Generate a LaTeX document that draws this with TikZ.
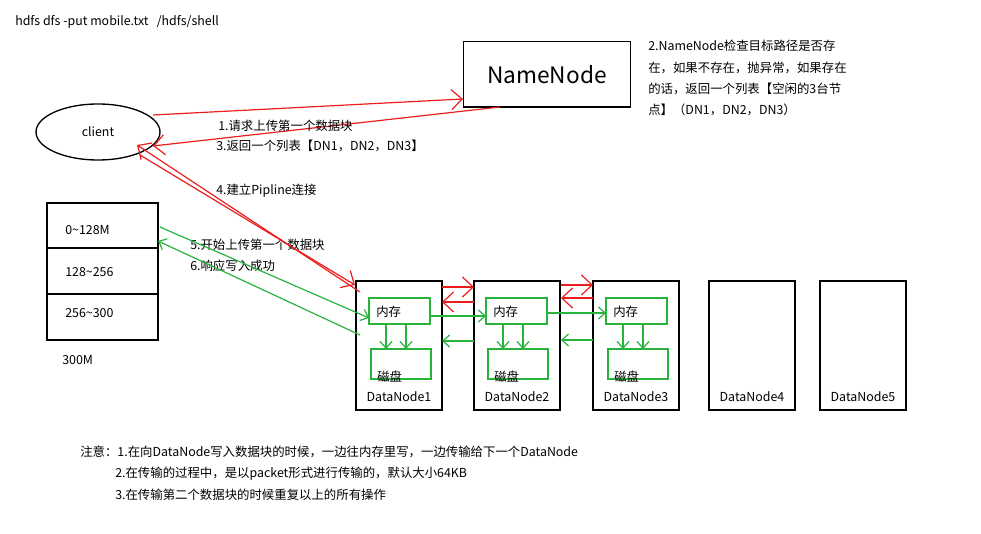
\documentclass[tikz,border=0pt]{standalone}
\usepackage{fontspec}
\setmainfont{Noto Sans CJK SC}
\usetikzlibrary{arrows.meta,shapes.geometric}
\definecolor{gr}{RGB}{40,180,60}
\definecolor{rd}{RGB}{235,30,30}
\begin{document}
\begin{tikzpicture}[x=0.75pt,y=-0.75pt,font=\fontsize{9.3}{11}\selectfont,
  box/.style={draw,line width=1pt},
  gbox/.style={draw=gr,line width=0.9pt},
  ra/.style={draw=rd,line width=0.9pt,-{Straight Barb[length=8pt,width=15pt]}},
  ga/.style={draw=gr,line width=0.9pt,-{Straight Barb[length=5pt,width=9pt]}},
  lbl/.style={anchor=west,inner sep=0pt}]
\useasboundingbox (0,0) rectangle (981,534);
\node[lbl] (title) at (15,22) {hdfs dfs -put mobile.txt \ \ /hdfs/shell};
\node[box,minimum width=125pt,minimum height=49pt] (nn) at (547,74.5) {\fontsize{17}{20}\selectfont NameNode};
\node[lbl,align=left,anchor=north west] (nnt) at (648,40) {2.NameNode检查目标路径是否存\\[5pt]在，如果不存在，抛异常，如果存在\\[5pt]的话，返回一个列表【空闲的3台节\\[5pt]点】（DN1，DN2，DN3）};
\node[draw,line width=1pt,ellipse,minimum width=93pt,minimum height=42pt] (cl) at (98,132) {client};
\coordinate (c1) at (153,115); \coordinate (n1) at (463,99);
\coordinate (n2) at (500,107); \coordinate (c2) at (153,146);
\draw[ra] (c1) -- (n1);
\draw[ra] (n2) -- (c2);
\node[lbl] (l1) at (218,126) {1.请求上传第一个数据块};
\node[lbl] (l3) at (216,146) {3.返回一个列表【DN1，DN2，DN3】};
\node[lbl] (l4) at (216,191) {4.建立Pipline连接};
\node[lbl] (l5) at (190,245) {5.开始上传第一个数据块};
\node[lbl] (l6) at (190,266) {6.响应写入成功};
% blocks
\draw[box] (47,203) rectangle (158,340);
\draw[box] (47,248) -- (158,248) (47,294) -- (158,294);
\node[lbl] (b1) at (65,230) {0\textasciitilde128M};
\node[lbl] (b2) at (65,272) {128\textasciitilde256};
\node[lbl] (b3) at (65,313) {256\textasciitilde300};
\node[lbl] (b4) at (62,360) {300M};
% datanodes
\foreach \x/\n in {356/1,474/2,593/3,709/4,820/5}{
  \draw[box] (\x,281) rectangle ++(86,129);
  \node[anchor=south] (dn\n) at (\x+43,406) {DataNode\n};
}
\foreach \x/\n in {369/1,486/2,606/3}{
  \draw[gbox] (\x,298) rectangle ++(61,26);
  \node[lbl] (m\n) at (\x+7,312) {内存};
  \draw[gbox] (\x+2,349) rectangle ++(60,30);
  \node[lbl] (d\n) at (\x+8,377) {磁盘};
  \draw[ga] (\x+17,324) -- (\x+17,349);
  \draw[ga] (\x+37,324) -- (\x+37,349);
}
% client <-> DN1
\coordinate (c3) at (140,155); \coordinate (d1a) at (355,285);
\coordinate (d1b) at (360,292); \coordinate (c4) at (137,145);
\draw[ra] (c3) -- (d1a);
\draw[ra] (d1b) -- (c4);
% green table <-> DN1
\coordinate (t1) at (160,227); \coordinate (m1a) at (369,318);
\coordinate (m1b) at (360,335); \coordinate (t2) at (158,241);
\draw[ga] (t1) -- (m1a);
\draw[ga] (m1b) -- (t2);
% DN red
\draw[ra] (442,287) -- (474,287);
\draw[ra] (474,302) -- (442,302);
\draw[ra] (561,285) -- (593,285);
\draw[ra] (593,298) -- (561,298);
% green mem
\draw[ga] (430,316) -- (486,316);
\draw[ga] (547,313) -- (606,313);
\draw[ga] (474,341) -- (442,341);
\draw[ga] (593,340) -- (561,340);
% notes
\node[lbl] (nt1) at (80,452) {注意：1.在向DataNode写入数据块的时候，一边往内存里写，一边传输给下一个DataNode};
\node[lbl] (nt2) at (115,474) {2.在传输的过程中，是以packet形式进行传输的，默认大小64KB};
\node[lbl] (nt3) at (115,495) {3.在传输第二个数据块的时候重复以上的所有操作};
\end{tikzpicture}
\end{document}
